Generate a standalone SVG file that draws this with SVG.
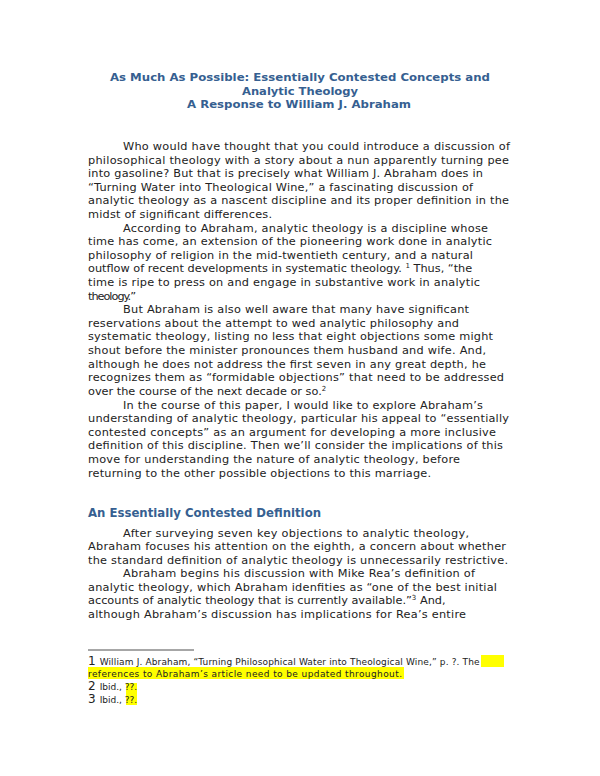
<svg xmlns="http://www.w3.org/2000/svg" width="600" height="776" viewBox="0 0 600 776">
<style>
text{font-family:"DejaVu Sans",sans-serif;fill:#222}
.b{font-size:11.3px}
.t{font-size:11.3px;font-weight:bold;fill:#365f91}
.h{font-size:12.3px;font-weight:bold;fill:#365f91}
.f{font-size:9px}
.n{font-size:12px}
.s{font-size:7px}
</style>
<rect width="600" height="776" fill="#fff"/>
<text class="t" x="110" y="81" textLength="380" lengthAdjust="spacingAndGlyphs">As Much As Possible: Essentially Contested Concepts and</text>
<text class="t" x="242" y="95" textLength="116" lengthAdjust="spacingAndGlyphs">Analytic Theology</text>
<text class="t" x="187" y="108" textLength="224" lengthAdjust="spacingAndGlyphs">A Response to William J. Abraham</text>
<g class="b">
<text x="123" y="150" textLength="387">Who would have thought that you could introduce a discussion of</text>
<text x="88" y="164" textLength="421">philosophical theology with a story about a nun apparently turning pee</text>
<text x="88" y="177" textLength="395">into gasoline? But that is precisely what William J. Abraham does in</text>
<text x="88" y="191" textLength="385">“Turning Water into Theological Wine,” a fascinating discussion of</text>
<text x="88" y="204" textLength="421">analytic theology as a nascent discipline and its proper definition in the</text>
<text x="88" y="218" textLength="184">midst of significant differences.</text>
<text x="123" y="232" textLength="365">According to Abraham, analytic theology is a discipline whose</text>
<text x="88" y="245" textLength="404">time has come, an extension of the pioneering work done in analytic</text>
<text x="88" y="259" textLength="385">philosophy of religion in the mid-twentieth century, and a natural</text>
<text x="88" y="272">outflow of recent developments in systematic theology. <tspan class="s" dy="-4">1</tspan><tspan dy="4"> Thus, “the</tspan></text>
<text x="88" y="286" textLength="392">time is ripe to press on and engage in substantive work in analytic</text>
<text x="88" y="300" textLength="48">theology.”</text>
<text x="123" y="313" textLength="346">But Abraham is also well aware that many have significant</text>
<text x="88" y="327" textLength="371">reservations about the attempt to wed analytic philosophy and</text>
<text x="88" y="340" textLength="405">systematic theology, listing no less that eight objections some might</text>
<text x="88" y="354" textLength="398">shout before the minister pronounces them husband and wife. And,</text>
<text x="88" y="368" textLength="398">although he does not address the first seven in any great depth, he</text>
<text x="88" y="381" textLength="416">recognizes them as “formidable objections” that need to be addressed</text>
<text x="88" y="395">over the course of the next decade or so.<tspan class="s" dy="-4">2</tspan></text>
<text x="123" y="409" textLength="360">In the course of this paper, I would like to explore Abraham’s</text>
<text x="88" y="422" textLength="421">understanding of analytic theology, particular his appeal to “essentially</text>
<text x="88" y="436" textLength="408">contested concepts” as an argument for developing a more inclusive</text>
<text x="88" y="449" textLength="415">definition of this discipline. Then we’ll consider the implications of this</text>
<text x="88" y="463" textLength="372">move for understanding the nature of analytic theology, before</text>
<text x="88" y="477" textLength="343">returning to the other possible objections to this marriage.</text>
</g>
<text class="h" x="88" y="517" textLength="233" lengthAdjust="spacingAndGlyphs">An Essentially Contested Definition</text>
<g class="b">
<text x="123" y="537" textLength="346">After surveying seven key objections to analytic theology,</text>
<text x="88" y="550" textLength="418">Abraham focuses his attention on the eighth, a concern about whether</text>
<text x="88" y="564" textLength="420">the standard definition of analytic theology is unnecessarily restrictive.</text>
<text x="123" y="577" textLength="352">Abraham begins his discussion with Mike Rea’s definition of</text>
<text x="88" y="591" textLength="409">analytic theology, which Abraham idenfities as “one of the best initial</text>
<text x="88" y="604">accounts of analytic theology that is currently available.”<tspan class="s" dy="-4">3</tspan><tspan dy="4"> And,</tspan></text>
<text x="88" y="618" textLength="378">although Abraham’s discussion has implications for Rea’s entire</text>
</g>
<line x1="88" y1="650" x2="194" y2="650" stroke="#222" stroke-width="0.8"/>
<g fill="#ffff00">
<rect x="481" y="655" width="23" height="12"/>
<rect x="88" y="667" width="316" height="12"/>
<rect x="126" y="683" width="11" height="11"/>
<rect x="126" y="694" width="11" height="11"/>
</g>
<text x="88" y="665"><tspan class="n">1</tspan><tspan class="f" dx="4" textLength="380">William J. Abraham, “Turning Philosophical Water into Theological Wine,”  p. ?. The</tspan></text>
<text class="f" x="88" y="677" textLength="314">references to Abraham’s article need to be updated throughout.</text>
<text x="88" y="690"><tspan class="n">2</tspan><tspan class="f" dx="4">Ibid., ??.</tspan></text>
<text x="88" y="703"><tspan class="n">3</tspan><tspan class="f" dx="4">Ibid., ??.</tspan></text>
</svg>
